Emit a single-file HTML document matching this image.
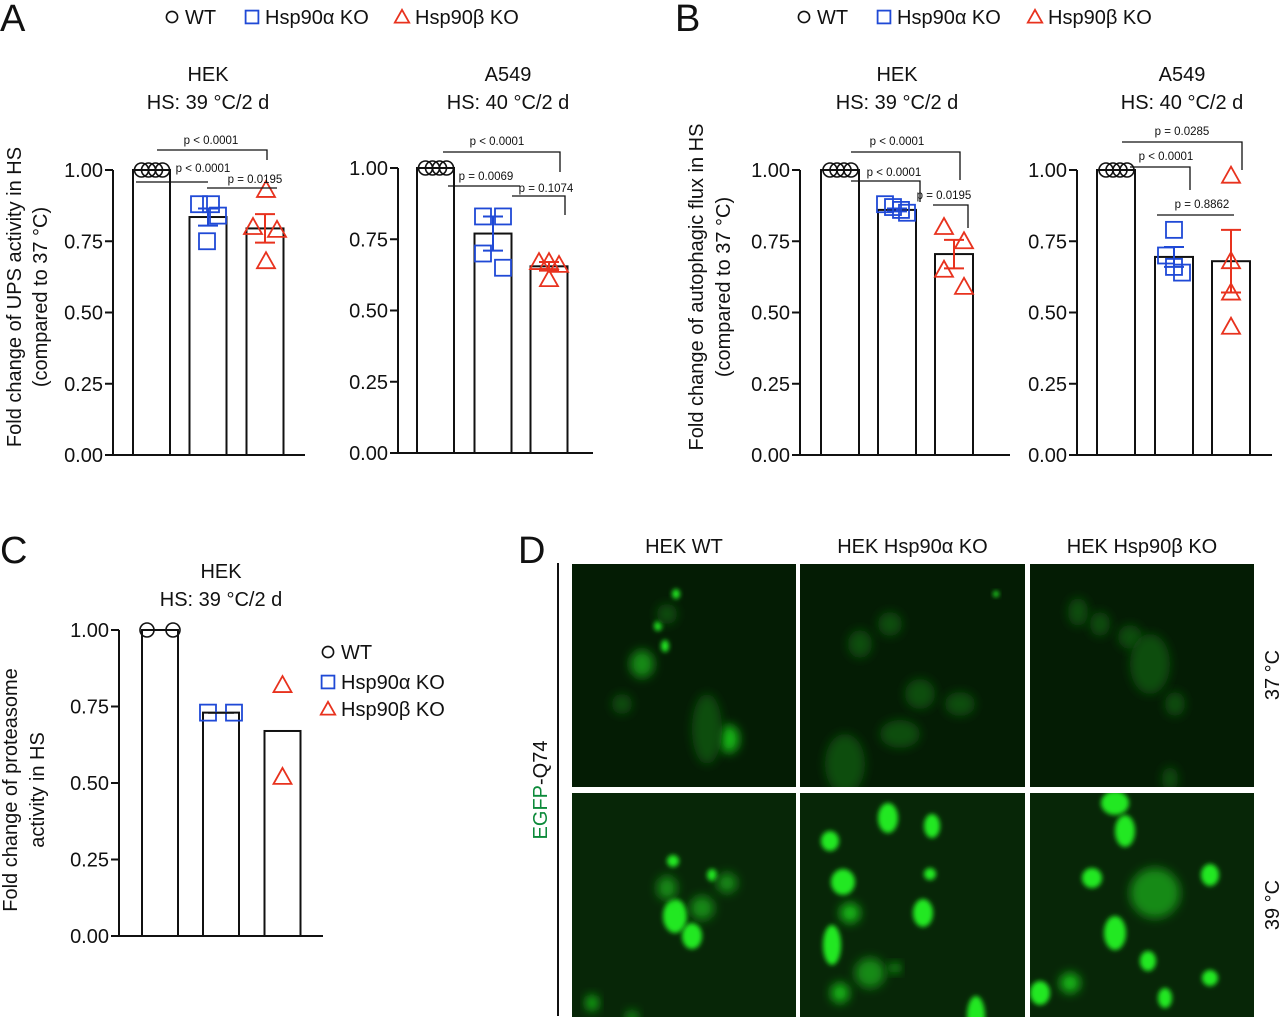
<!DOCTYPE html>
<html><head><meta charset="utf-8">
<style>
html,body{margin:0;padding:0;background:#fff;}
svg{display:block;font-family:"Liberation Sans",Arial,sans-serif;}
.tick{font-size:20px;fill:#111;}
.ttl{font-size:20px;fill:#111;}
.pv{font-size:11.5px;fill:#111;}
.lg{font-size:20px;fill:#111;}
.let{font-size:38px;fill:#111;}
</style></head>
<body>
<svg id="fig" width="1280" height="1017" viewBox="0 0 1280 1017" xmlns="http://www.w3.org/2000/svg">
<defs>
<filter id="bl" x="-50%" y="-50%" width="200%" height="200%"><feGaussianBlur stdDeviation="2.5"/></filter>
<filter id="bl2" x="-50%" y="-50%" width="200%" height="200%"><feGaussianBlur stdDeviation="5"/></filter>
</defs>
<g id="root"></g>
</svg>
<script>
// ---- data ----
const groups = ["WT","Hsp90α KO","Hsp90β KO"];
const yTicks = [0,0.25,0.5,0.75,1.0];
const yTickLabels = ["0.00","0.25","0.50","0.75","1.00"];
// Panel A HEK
const aHekMeans = [1.0,0.835,0.795];
const aHekSem = [0,0.03,0.05];
const aHekWT = [1,1,1,1];
const aHekAlpha = [0.88,0.88,0.84,0.75];
const aHekBeta = [0.93,0.80,0.79,0.68];
// Panel A A549
const aA549Means = [1.0,0.77,0.655];
const aA549Sem = [0,0.06,0.015];
const aA549WT = [1,1,1,1];
const aA549Alpha = [0.83,0.83,0.70,0.65];
const aA549Beta = [0.67,0.67,0.66,0.61];
// Panel B HEK
const bHekMeans = [1.0,0.86,0.705];
const bHekSem = [0,0.005,0.05];
const bHekWT = [1,1,1,1];
const bHekAlpha = [0.88,0.87,0.86,0.85];
const bHekBeta = [0.80,0.75,0.65,0.59];
// Panel B A549
const bA549Means = [1.0,0.695,0.68];
const bA549Sem = [0,0.035,0.11];
const bA549WT = [1,1,1,1];
const bA549Alpha = [0.79,0.70,0.66,0.64];
const bA549Beta = [0.98,0.68,0.57,0.45];
// Panel C
const cMeans = [1.0,0.73,0.67];
const cWT = [1,1];
const cAlpha = [0.73,0.73];
const cBeta = [0.82,0.52];

const jitter4 = [-10,-3,4,11];
const jitter2 = [-13,13];

const NS="http://www.w3.org/2000/svg";
const root=document.getElementById('root');
function mk(tag,attrs,parent){const e=document.createElementNS(NS,tag);for(const k in attrs)e.setAttribute(k,attrs[k]);(parent||root).appendChild(e);return e;}
function txt(x,y,s,cls,parent,anchor){const t=mk('text',{x:x,y:y,class:cls,'text-anchor':anchor||'middle'},parent);t.textContent=s;return t;}
const BLUE="#1f49d6", RED="#e8321e";

function marker(g,type,x,y,sc){
  sc=sc||1;
  let e;
  if(type===0){e=mk('circle',{cx:x,cy:y,r:7*sc,fill:'none',stroke:'#111','stroke-width':1.6},g);}
  else if(type===1){e=mk('rect',{x:x-8*sc,y:y-8*sc,width:16*sc,height:16*sc,fill:'none',stroke:BLUE,'stroke-width':1.8},g);}
  else {e=mk('polygon',{points:`${x},${y-9*sc} ${x+9*sc},${y+7*sc} ${x-9*sc},${y+7*sc}`,fill:'none',stroke:RED,'stroke-width':1.8},g);}
  return e;
}

function panel(name,o){
  const g=mk('g',{});
  
  
  const ys=v=>o.y0+(o.y1-o.y0)*v;
  const ax=mk('line',{x1:o.ax,y1:ys(1),x2:o.ax,y2:o.y0,stroke:'#111','stroke-width':2},g);
  
  
  const bx=mk('line',{x1:o.ax-1,y1:o.y0,x2:o.xend,y2:o.y0,stroke:'#111','stroke-width':2},g);
  
  
  yTicks.forEach((t,i)=>{
    mk('line',{x1:o.ax-8,y1:ys(t),x2:o.ax,y2:ys(t),stroke:'#111','stroke-width':2},g);
    const l=txt(o.ax-10,ys(t)+7,yTickLabels[i],'tick',g,'end');
    
    
  });
  o.means.forEach((m,i)=>{
    const b=mk('rect',{x:o.cx[i]-o.bw/2,y:ys(m),width:o.bw,height:o.y0-ys(m),fill:'#fff',stroke:'#111','stroke-width':2},g);
    
    
  });
  o.pts.forEach((arr,i)=>{
    const jit=o.jit[i];
    arr.forEach((v,j)=>{
      const p=marker(g,i,o.cx[i]+jit[j],ys(v));
      
      
    });
  });
  if(o.sem){o.sem.forEach((s,i)=>{
    if(!s) return;
    const col=i===1?BLUE:RED;
    const c=o.cx[i];
    const eb=mk('path',{d:`M${c},${ys(o.means[i]+s)}V${ys(o.means[i]-s)}M${c-10},${ys(o.means[i]+s)}H${c+10}M${c-10},${ys(o.means[i]-s)}H${c+10}`,stroke:col,'stroke-width':2,fill:'none'},g);
    
    
  });}
  (o.br||[]).forEach(b=>{
    let d=`M${b[0]},${b[2]}H${b[1]}`; if(b[3]) d+=`V${b[3]}`;
    const p=mk('path',{d:d,stroke:'#111','stroke-width':1.3,fill:'none'},g);
    
    
    const t=txt(b[4],b[5],b[6],'pv',g);
    
    
  });
  o.title.forEach((s,i)=>{const t=txt(o.tx,o.ty+i*28,s,'ttl',g);});
}

panel('chart-a-hek',{ax:113,xend:305,y0:455,y1:170,bw:37,cx:[151.5,208,265],means:aHekMeans,sem:aHekSem,
  pts:[aHekWT,aHekAlpha,aHekBeta],jit:[jitter4,[-9,3,10,-1],[1,-12,12,1]],
  br:[[157,267,150,160,211,144,'p < 0.0001'],[136,208,182,0,203,172,'p < 0.0001'],[207,277,188,0,255,183,'p = 0.0195']],
  title:['HEK','HS: 39 °C/2 d'],tx:208,ty:81});
panel('chart-a-a549',{ax:398,xend:593,y0:453,y1:168,bw:37,cx:[435.5,493,549],means:aA549Means,sem:aA549Sem,
  pts:[aA549WT,aA549Alpha,aA549Beta],jit:[jitter4,[-10,10,-10,10],[-10,0,10,0]],
  br:[[443,560,152,172,497,145,'p < 0.0001'],[448,520,186,0,486,180,'p = 0.0069'],[512,565,196,215,546,192,'p = 0.1074']],
  title:['A549','HS: 40 °C/2 d'],tx:508,ty:81});
panel('chart-b-hek',{ax:800,xend:1010,y0:455,y1:170,bw:38,cx:[840,897,954],means:bHekMeans,sem:bHekSem,
  pts:[bHekWT,bHekAlpha,bHekBeta],jit:[jitter4,[-12,-4,4,10],[-10,10,-10,10]],
  br:[[851,960,152,180,897,145,'p < 0.0001'],[851,920,181,202,894,176,'p < 0.0001'],[933,968,205,228,944,199,'p = 0.0195']],
  title:['HEK','HS: 39 °C/2 d'],tx:897,ty:81});
panel('chart-b-a549',{ax:1077,xend:1272,y0:455,y1:170,bw:38,cx:[1116,1174,1231],means:bA549Means,sem:bA549Sem,
  pts:[bA549WT,bA549Alpha,bA549Beta],jit:[jitter4,[0,-8,0,8],[0,0,0,0]],
  br:[[1122,1242,142,170,1182,135,'p = 0.0285'],[1130,1190,167,190,1166,160,'p < 0.0001'],[1157,1234,215,0,1202,208,'p = 0.8862']],
  title:['A549','HS: 40 °C/2 d'],tx:1182,ty:81});
panel('chart-c',{ax:119,xend:323,y0:936,y1:630,bw:36,cx:[160,221,282.5],means:cMeans,sem:null,
  pts:[cWT,cAlpha,cBeta],jit:[jitter2,jitter2,[0,0]],br:[],
  title:['HEK','HS: 39 °C/2 d'],tx:221,ty:578});
mk('line',{x1:147,y1:630,x2:172,y2:630,stroke:'#111','stroke-width':1.5});
mk('line',{x1:208,y1:713,x2:234,y2:713,stroke:'#111','stroke-width':1.5});

function ytitle(x,y,s,name){const t=txt(0,0,s,'ttl',root);t.setAttribute('transform',`translate(${x},${y}) rotate(-90)`);}
ytitle(21,297,'Fold change of UPS activity in HS','y-axis-title-a');
ytitle(47,297,'(compared to 37 °C)','y-axis-subtitle-a');
ytitle(703,287,'Fold change of autophagic flux in HS','y-axis-title-b');
ytitle(730,287,'(compared to 37 °C)','y-axis-subtitle-b');
ytitle(17,790,'Fold change of proteasome','y-axis-title-c');
ytitle(44,790,'activity in HS','y-axis-subtitle-c');

[['A',0,31],['B',675,31],['C',0,563],['D',518,563]].forEach(l=>{const t=txt(l[1],l[2],l[0],'let',root,'start');});

function legend(items,name){const g=mk('g',{});
  items.forEach((it,i)=>{marker(g,i,it[0],it[1],0.8);
    const t=txt(it[0]+13,it[1]+7,groups[i],'lg',g,'start');});}
legend([[172,17],[252,17],[402,17]],'legend-a');
legend([[804,17],[884,17],[1035,17]],'legend-b');
legend([[328,652],[328,682],[328,709]],'legend-c');

// Panel D micrographs
const dg=mk('g',{});
mk('line',{x1:558,y1:563,x2:558,y2:1016,stroke:'#111','stroke-width':2},dg);
const cols=[[572,224],[800,225],[1030,224]];
const rows=[[564,223],[793,224]];
const colLabels=['HEK WT','HEK Hsp90α KO','HEK Hsp90β KO'];
colLabels.forEach((s,i)=>{const t=txt(cols[i][0]+cols[i][1]/2,553,s,'ttl',dg);});
const blobs=[
 [[104,30,4,5,1],[86,62,4,5,1],[93,82,4,6,1],[70,100,12,14,.35],[157,175,10,14,.6],[135,165,15,35,.22],[50,140,10,10,.2],[95,50,10,10,.3]],
 [[196,30,3,3,1],[60,80,12,14,.18],[120,130,15,15,.2],[100,170,20,14,.2],[45,200,20,30,.15],[160,140,15,12,.2],[90,60,12,12,.15]],
 [[48,48,10,14,.3],[70,60,10,12,.28],[100,73,12,12,.25],[145,140,10,12,.18],[140,215,8,12,.15],[120,100,20,30,.1]],
 [[103,123,12,17,1],[120,143,10,13,.95],[101,68,6,6,1],[140,82,5,6,.9],[95,95,10,12,.4],[130,115,12,12,.4],[155,90,10,10,.35],[20,210,6,8,.6],[60,225,6,8,.4]],
 [[32,152,9,20,1],[30,48,9,10,1],[43,89,12,13,1],[88,25,10,15,1],[132,33,8,12,1],[123,120,10,14,.9],[130,81,6,6,1],[176,223,9,20,1],[50,120,10,10,.7],[40,200,9,10,.7],[70,180,15,15,.5],[95,175,5,5,.8]],
 [[85,10,14,12,1],[95,38,10,16,1],[62,85,10,10,1],[180,82,9,11,1],[85,140,11,17,1],[10,200,10,12,1],[118,168,8,10,1],[180,185,8,8,.9],[135,205,7,10,.9],[125,100,25,25,.35],[40,190,10,10,.6]]
];
let k=0;
rows.forEach((r,ri)=>cols.forEach((c,ci)=>{
  const tile=mk('g',{},dg);
  
  
  mk('rect',{x:c[0],y:r[0],width:c[1],height:r[1],fill:ri?'#072607':'#041c04'},tile);
  const cp='cp'+k;
  const clip=mk('clipPath',{id:cp},tile);mk('rect',{x:c[0],y:r[0],width:c[1],height:r[1]},clip);
  const inner=mk('g',{'clip-path':`url(#${cp})`},tile);
  blobs[k].forEach(b=>{
    const br=b[4];
    const col=br>0.8?'#22e822':br>0.5?'#17b817':br>0.3?'#138a13':'#0e4e0e';
    mk('ellipse',{cx:c[0]+b[0],cy:r[0]+b[1],rx:b[2],ry:b[3],fill:col,filter:br>0.8?'url(#bl)':'url(#bl2)'},inner);
  });
  k++;
}));
const rl=[['37 °C',1279,675],['39 °C',1279,905]];
rl.forEach(l=>{const t=txt(0,0,l[0],'ttl',dg);t.setAttribute('transform',`translate(${l[1]},${l[2]}) rotate(-90)`);});
const eg=mk('text',{class:'ttl','text-anchor':'middle',transform:'translate(547,790) rotate(-90)'},dg);


const s1=mk('tspan',{fill:'#0c8a3a'},eg);s1.textContent='EGFP';
const s2=mk('tspan',{fill:'#111'},eg);s2.textContent='-Q74';
</script>
</body></html>
